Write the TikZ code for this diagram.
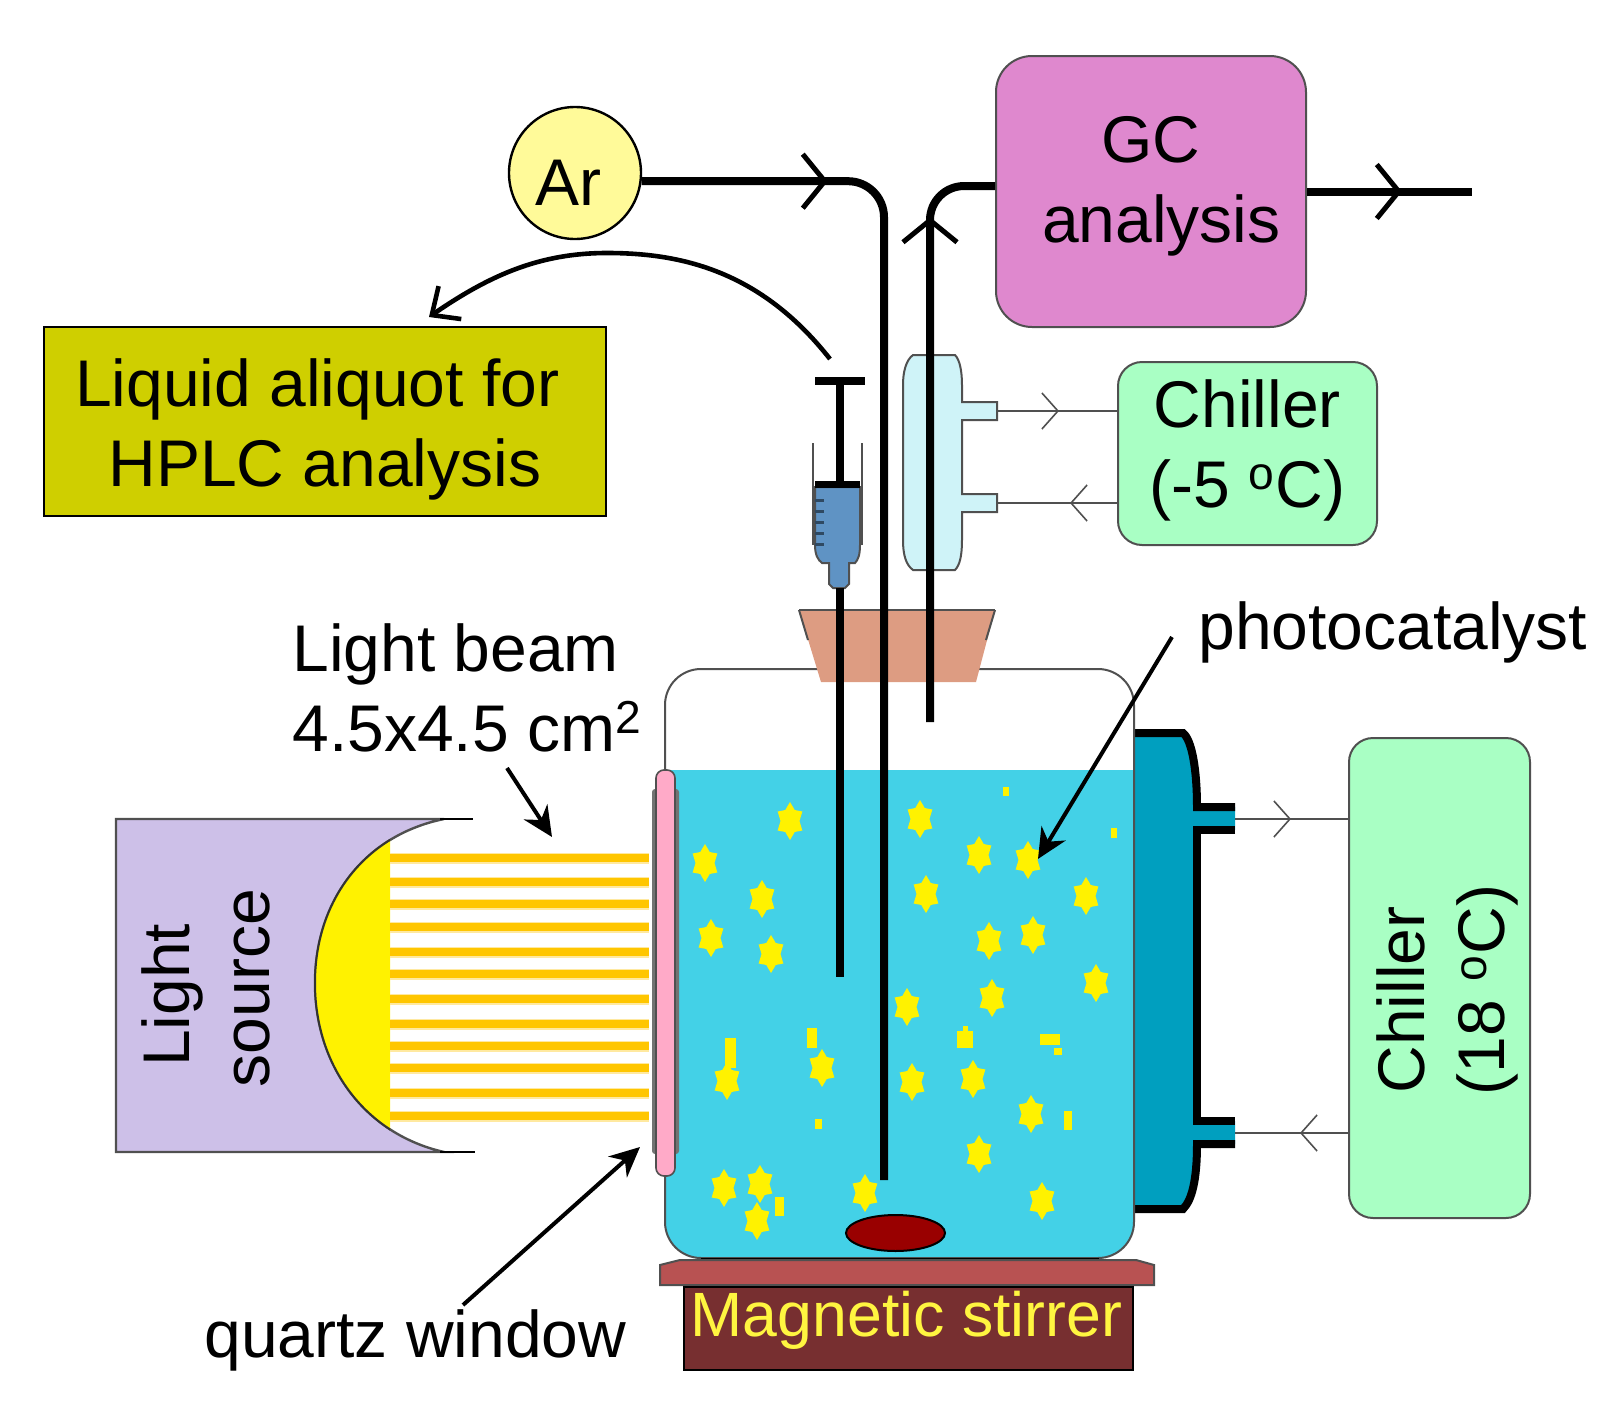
\documentclass[tikz,border=0pt]{standalone}
\usepackage{fontspec}
\setmainfont{Liberation Sans}
\usetikzlibrary{shapes.geometric, arrows.meta, calc}

\definecolor{liquidc}{HTML}{CFCF00}
\definecolor{gcc}{HTML}{DF88CE}
\definecolor{chillc}{HTML}{A9FFC4}
\definecolor{watc}{HTML}{43D1E7}
\definecolor{jackc}{HTML}{009FBF}
\definecolor{condc}{HTML}{CFF3F8}
\definecolor{sourcec}{HTML}{CDC0E8}
\definecolor{rayc}{HTML}{FFC600}
\definecolor{rayhalo}{HTML}{FFE9A0}
\definecolor{pinkc}{HTML}{FFAAC8}
\definecolor{corkc}{HTML}{DD9C82}
\definecolor{platec}{HTML}{B85252}
\definecolor{basec}{HTML}{772F30}
\definecolor{bluec}{HTML}{5F93C4}
\definecolor{edgec}{HTML}{505050}

\tikzstyle{label_text} = [font=\fontsize{33}{40.3}\selectfont, inner sep=0pt]
\tikzstyle{box} = [rectangle, label_text, align=center, draw=edgec, line width=1pt]
\tikzstyle{chiller} = [box, rounded corners=12pt, fill=chillc]
\tikzstyle{tube} = [line width=4pt]
\tikzstyle{chevron} = [-{Straight Barb[length=11pt,width=27pt,line width=2.5pt]}]
\tikzstyle{coolant} = [line width=1pt, draw=edgec]
\tikzstyle{thinchevron} = [-{Straight Barb[length=8pt,width=18pt,line width=.8pt]}]
\tikzstyle{pointer} = [line width=2pt,-{Stealth[length=15pt,width=14pt]}]
\tikzstyle{glass} = [line width=1pt, draw=edgec]
\tikzstyle{starpart} = [star, star points=6, star point ratio=1.5, minimum size=19pt, inner sep=0pt, fill=yellow, xscale=.75]

\begin{document}
\begin{tikzpicture}[x=0.5pt, y=-0.5pt]
    \useasboundingbox (0,0) rectangle (1624,1414);

    \node (ar) [circle, label_text, draw=black, line width=1.2pt, fill=yellow!40, minimum size=66pt, text height=32pt, text depth=0pt] at (575,173) {Ar\rule{6.2pt}{0pt}};
    \node (gc) [box, rounded corners=18pt, fill=gcc, minimum width=155pt, minimum height=135.5pt] at (1151,191.5) {GC\\\rule{10.4pt}{0pt}analysis\rule[-12pt]{0pt}{12pt}};
    \node (hplc) [box, draw=black, line width=1.3pt, fill=liquidc, minimum width=281pt, minimum height=94.5pt] at (325,421.5) {\rule{0pt}{32pt}Liquid aliquot for\rule{7.8pt}{0pt}\\HPLC analysis};
    \node (chillercold) [chiller, minimum width=129.5pt, minimum height=91.5pt] at (1247.5,453.5) {Chiller\\(-5 \textsuperscript{o}C)\rule[-10pt]{0pt}{10pt}};
    \node (chillerwarm) [chiller, rotate=90, minimum width=240pt, minimum height=90.5pt] at (1439.5,978) {\rule{0pt}{32pt}Chiller\rule{22pt}{0pt}\\(18 \textsuperscript{o}C)\rule{12pt}{0pt}};

    \coordinate (arend) at (884,1180);
    \coordinate (archev) at (828,0);
    \coordinate (gcend) at (930,722);
    \coordinate (gcchev) at (930,217);
    \coordinate (gcout) at (1472,0);
    \coordinate (gcoutchev) at (1402,0);
    \coordinate (sampstart) at (830,359);
    \coordinate (samptop) at (607,253);
    \coordinate (sampend) at (429,317);
    \coordinate (needletop) at (840,588);
    \coordinate (needleend) at (840,977);
    \coordinate (condtop) at (997,411);
    \coordinate (condbot) at (997,503);
    \coordinate (condtopchev) at (1059,411);
    \coordinate (condbotchev) at (1070,503);
    \coordinate (jacktop) at (1235,819);
    \coordinate (jackbot) at (1235,1133);
    \coordinate (jacktopchev) at (1291,819);
    \coordinate (jackbotchev) at (1300,1133);

%light source and beam
    \filldraw [fill=sourcec, draw=edgec, line width=1.2pt] (444,819) -- (116,819) -- (116,1152) -- (444,1152)
        .. controls (365,1134) and (315,1066) .. (315,983)
        .. controls (315,900) and (365,835) .. (444,819);
    \draw [line width=1.2pt] (440,819) -- (473,819);
    \draw [line width=1.2pt] (440,1152) -- (475,1152);
    \begin{scope}
        \clip (300,800) rectangle (390,1170);
        \filldraw [fill=yellow, draw=black!80, line width=1pt] (444,819)
            .. controls (365,835) and (315,900) .. (315,983)
            .. controls (315,1066) and (365,1134) .. (444,1152);
    \end{scope}
    \foreach \y in {858,882,904,927,952,974,999,1024,1046,1068,1093,1116} {
        \draw [rayhalo, line width=5.5pt] (390,\y) -- (649,\y);
        \draw [rayc, line width=4pt] (390,\y) -- (649,\y);
    }
    \node (lamp) [label_text, rotate=90, align=center] at (206,988) {Light\rule{7.3pt}{0pt}\\source};

%jacket
    \fill [jackc] (1135,733) -- (1183,733) .. controls (1192,740) and (1197,770) .. (1197,807) -- (1235,807)
        -- (1235,830) -- (1197,830) -- (1197,1121) -- (1235,1121) -- (1235,1144) -- (1197,1144)
        .. controls (1197,1180) and (1192,1200) .. (1183,1209) -- (1135,1209) -- cycle;
    \draw [line width=4pt] (1135,733) -- (1183,733) .. controls (1192,740) and (1197,770) .. (1197,807) -- (1235,807);
    \draw [line width=4pt] (1235,830) -- (1197,830) -- (1197,1121) -- (1235,1121);
    \draw [line width=4pt] (1235,1144) -- (1197,1144) .. controls (1197,1180) and (1192,1200) .. (1183,1209) -- (1135,1209);
    \fill [jackc] (1190,812) rectangle (1235,826);
    \fill [jackc] (1190,1126) rectangle (1235,1140);

%flask
    \fill [watc] (665,770) -- (1134,770) -- (1134,1222) .. controls (1134,1242) and (1118,1258) .. (1098,1258)
        -- (701,1258) .. controls (681,1258) and (665,1242) .. (665,1222) -- cycle;
    \draw [glass, rounded corners=18pt] (820,669) -- (665,669) -- (665,1258) -- (1134,1258) -- (1134,669) -- (977,669);
    \draw [line width=1.5pt] (701,1259) -- (1099,1259);

    \foreach \sx/\sy [count=\i] in {790/821,705/863,762/899,711/938,771/954,727/1081,822/1068,724/1188,760/1184,757/1221,865/1193,920/819,979/855,1028/860,926/894,1086/896,989/941,1033/935,1096/983,907/1007,992/998,912/1082,973/1079,1031/1114,979/1154,1042/1201}
        \node (star\i) [starpart] at (\sx,\sy) {};
    \foreach \ax/\ay/\bx/\by in {725/1038/736/1068,807/1028/817/1048,957/1031/973/1048,963/1026/968/1032,1040/1034/1060/1045,1054/1048/1062/1055,1064/1111/1072/1130,775/1197/784/1216,1003/787/1009/796,1111/828/1117/838,815/1119/822/1129}
        \fill [yellow] (\ax,\ay) rectangle (\bx,\by);

    \node (stirbar) [ellipse, draw=black, line width=1pt, fill=red!60!black, minimum width=49.5pt, minimum height=18pt, inner sep=0pt] at (895.5,1233) {};

%quartz window
    \fill [black!55, rounded corners=1.5pt] (652,789) rectangle (679,1154);
    \filldraw [fill=pinkc, draw=edgec, line width=.8pt, rounded corners=4pt] (656,770) rectangle (675,1176);

%stopper
    \fill [corkc] (799,610) -- (995,610) -- (976,682) -- (821,682) -- cycle;
    \draw [coolant] (799,610) -- (995,610);
    \draw [coolant] (799,610) -- (808,640);
    \draw [coolant] (995,610) -- (986,640);

%condenser
    \filldraw [fill=condc, draw=edgec, line width=1pt] (913,355) -- (955,355) .. controls (960,360) and (962,372) .. (962,385)
        -- (962,402) -- (997,402) -- (997,420) -- (962,420) -- (962,494) -- (997,494) -- (997,512) -- (962,512) -- (962,540)
        .. controls (962,555) and (960,565) .. (955,570) -- (913,570) .. controls (906,565) and (903,555) .. (903,540)
        -- (903,385) .. controls (903,372) and (906,360) .. (913,355) -- cycle;

%syringe
    \draw [line width=4pt] (815,381) -- (865,381);
    \draw [line width=4pt] (840,381) -- (840,484);
    \filldraw [fill=bluec, draw=edgec, line width=1pt] (815,487) -- (860,487) -- (860,545) .. controls (860,555) and (858,560) .. (855,563) -- (849,563) -- (849,584) -- (845,588) -- (833,588) -- (829,584) -- (829,563) -- (822,563) .. controls (818,560) and (815,555) .. (815,545) -- cycle;
    \draw [line width=3.5pt] (815,484) -- (860,484);
    \draw [coolant] (813,443) -- (813,545);
    \draw [coolant] (862,443) -- (862,545);
    \foreach \y in {500,511,522,533,544}
        \draw [bluec!50!black, line width=1.5pt] (815,\y) -- (824,\y);
    \draw [tube] (needletop) -- (needleend);

%gas lines
    \draw [tube, rounded corners=18pt] (ar.-7) -| (arend);
    \draw [tube, chevron] (ar.-7) -- (ar.-7 -| archev);
    \draw [tube, rounded corners=17pt] (gc.178) -| (gcend);
    \draw [tube, chevron] (gcend) -- (gcchev);
    \draw [tube] (gc.east) -- (gc.east -| gcout);
    \draw [tube, chevron] (gc.east) -- (gc.east -| gcoutchev);
    \draw [line width=2.3pt, -{Straight Barb[length=11pt,width=20pt,line width=2.3pt]}] (sampstart) .. controls (760,270) and (680,253) .. (samptop)
        .. controls (540,253) and (490,275) .. (sampend);

%coolant lines
    \draw [coolant] (condtop) -- (chillercold.west |- condtop);
    \draw [coolant, thinchevron] (condtop) -- (condtopchev);
    \draw [coolant] (chillercold.west |- condbot) -- (condbot);
    \draw [coolant, thinchevron] (chillercold.west |- condbot) -- (condbotchev);
    \draw [coolant] (jacktop) -- (jacktop -| chillerwarm.north);
    \draw [coolant, thinchevron] (jacktop) -- (jacktopchev);
    \draw [coolant] (jackbot -| chillerwarm.north) -- (jackbot);
    \draw [coolant, thinchevron] (jackbot -| chillerwarm.north) -- (jackbotchev);

%stirrer
    \filldraw [fill=platec, draw=edgec, line width=1pt] (680,1260) -- (1136,1260) -- (1154,1265) -- (1154,1285) -- (660,1285) -- (660,1265) -- cycle;
    \node (stirrer) [box, draw=black, fill=basec, text=yellow!75!white, font=\fontsize{31.3}{38}\selectfont, text depth=14.5pt, minimum width=224.5pt, minimum height=41.5pt] at (908.5,1328.5) {Magnetic stirrer\rule{2pt}{0pt}};

%labels
    \node (beam) [label_text, anchor=north west, align=left] at (292,623) {Light beam\\4.5x4.5 cm\textsuperscript{2}};
    \node (quartz) [label_text, anchor=base west] at (204,1357) {quartz window};
    \node (catalyst) [label_text, anchor=base west] at (1198,649) {photocatalyst};
    \coordinate (beamtail) at (507,768);
    \coordinate (beamtip) at (552,837);
    \coordinate (quartztail) at (463,1305);
    \coordinate (quartztip) at (640,1147);
    \coordinate (catalysttail) at (1172,637);
    \coordinate (catalysttip) at (1038,859);
    \draw [pointer] (beamtail) -- (beamtip);
    \draw [pointer] (quartztail) -- (quartztip);
    \draw [pointer] (catalysttail) -- (catalysttip);
\end{tikzpicture}
\end{document}
